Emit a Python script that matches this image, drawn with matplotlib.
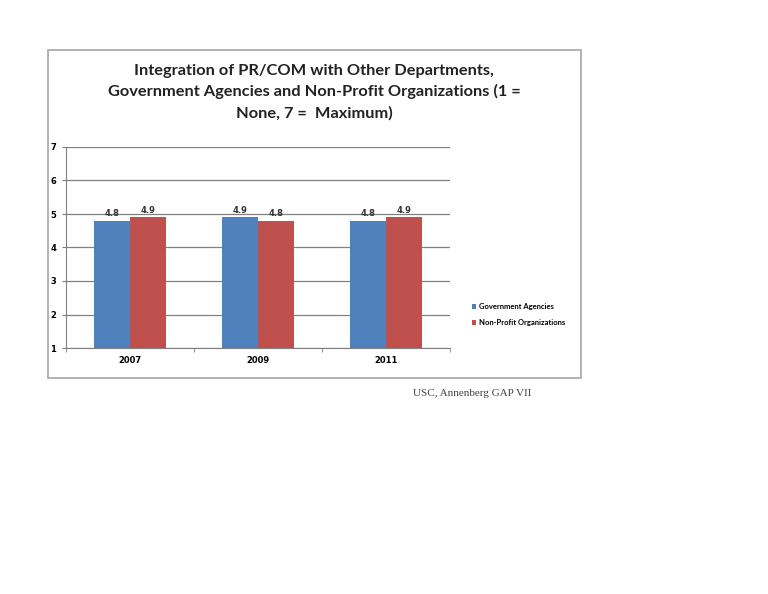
import numpy as np
import matplotlib.pyplot as plt
from matplotlib.patches import Rectangle

# data
years = ["2007", "2009", "2011"]
gov = [4.8, 4.9, 4.8]
nonprofit = [4.9, 4.8, 4.9]
series_names = ["Government Agencies", "Non-Profit Organizations"]

BLUE = "#4F81BD"
RED = "#C0504D"

fig = plt.figure(figsize=(7.68, 5.94), dpi=100)

# outer chart frame
fig.patches.append(Rectangle((48/768, 1-378/594), (581-48)/768, (378-50)/594,
                             transform=fig.transFigure, fill=False,
                             edgecolor="#A6A6A6", linewidth=1.2))

ax = fig.add_axes([66/768, 1-348/594, 384/768, 201/594])
x = np.arange(len(years))
w = 0.285
b1 = ax.bar(x - w/2, np.array(gov) - 1, w, bottom=1, color=BLUE, label=series_names[0], zorder=3)
b2 = ax.bar(x + w/2, np.array(nonprofit) - 1, w, bottom=1, color=RED, label=series_names[1], zorder=3)

for bars, vals in ((b1, gov), (b2, nonprofit)):
    for r, v in zip(bars, vals):
        ax.text(r.get_x() + r.get_width()/2, v + 0.08, f"{v}", ha="center", va="bottom",
                fontsize=6, fontweight="bold", color="#333333")

ax.set_xlim(-0.5, 2.5)
ax.set_ylim(1, 7)
ax.set_yticks(range(1, 8))
ax.yaxis.grid(True, color="#808080", linewidth=0.9, zorder=0)
ax.set_xticks(x)
ax.set_xticklabels(years)
ax.set_xticks([-0.5, 0.5, 1.5, 2.5], minor=True)
ax.tick_params(axis="x", which="major", length=0, labelsize=6, pad=6)
ax.tick_params(axis="x", which="minor", length=3, color="#808080")
ax.tick_params(axis="y", length=3, labelsize=6, color="#808080", pad=4)
for s in ("top", "right"):
    ax.spines[s].set_visible(False)
for s in ("left", "bottom"):
    ax.spines[s].set_color("#808080")
for lab in ax.get_xticklabels() + ax.get_yticklabels():
    lab.set_fontweight("bold")

fig.legend(handles=[b1, b2], labels=series_names, loc="upper left",
           bbox_to_anchor=(465/768, 1-296/594), frameon=False,
           handlelength=0.6, handleheight=0.6, handletextpad=0.3, labelspacing=1.2,
           prop={"family": "Lato", "weight": "bold", "size": 5.5})

fig.text(314/768, 1-92/594,
         "Integration of PR/COM with Other Departments,\n"
         "Government Agencies and Non-Profit Organizations (1 =\n"
         "None, 7 =  Maximum)",
         ha="center", va="center", fontsize=11.8, fontweight="bold",
         family="Lato", linespacing=1.55, color="#222222")

fig.text(472/768, 1-393/594, "USC, Annenberg GAP VII", ha="center", va="center",
         fontsize=8, family="Liberation Serif", color="#444444")

fig.savefig("out.png", dpi=100)
